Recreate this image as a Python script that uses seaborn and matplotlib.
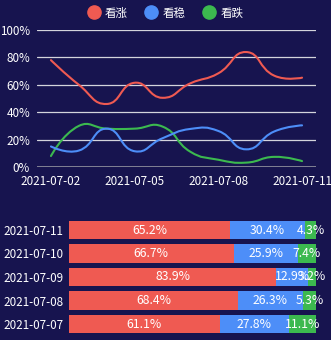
import numpy as np
import pandas as pd
import matplotlib
matplotlib.use("Agg")
import matplotlib.pyplot as plt
from matplotlib.path import Path
from matplotlib.patches import PathPatch
from matplotlib.lines import Line2D
import seaborn as sns

# ---------------- data ----------------
dates = ["2021-07-02", "2021-07-03", "2021-07-04", "2021-07-05", "2021-07-06",
         "2021-07-07", "2021-07-08", "2021-07-09", "2021-07-10", "2021-07-11"]
rise = [78.0, 60.0, 46.0, 61.5, 50.5, 61.1, 68.4, 83.9, 66.7, 65.2]
stable = [15.0, 12.0, 28.0, 11.5, 21.0, 27.8, 26.3, 12.9, 25.9, 30.4]
fall = [8.0, 30.0, 28.0, 28.0, 29.5, 11.1, 5.3, 3.2, 7.4, 4.3]
series_names = ["看涨", "看稳", "看跌"]
x_tick_labels = ["2021-07-02", "2021-07-05", "2021-07-08", "2021-07-11"]
y_tick_labels = ["0%", "20%", "40%", "60%", "80%", "100%"]

bar_dates = ["2021-07-11", "2021-07-10", "2021-07-09", "2021-07-08", "2021-07-07"]
bar_rise = [65.2, 66.7, 83.9, 68.4, 61.1]
bar_stable = [30.4, 25.9, 12.9, 26.3, 27.8]
bar_fall = [4.3, 7.4, 3.2, 5.3, 11.1]

# ---------------- style ----------------
BG = "#17144f"
RED = "#ef5a52"
BLUE = "#4d8ef8"
GREEN = "#3cb94f"
GRID = "#d4d4dc"

sns.set_theme(style="dark")
plt.rcParams["font.family"] = ["Noto Sans CJK SC", "DejaVu Sans"]
plt.rcParams["axes.unicode_minus"] = False

fig = plt.figure(figsize=(3.31, 3.40), dpi=100, facecolor=BG)

# ---------------- top line chart ----------------
ax = fig.add_axes([37 / 331, 1 - 167 / 340, (316 - 37) / 331, (167 - 30) / 340])
ax.set_facecolor(BG)
n = len(dates)
xs = np.arange(n)
ax.set_xlim(-0.5, n - 0.5)
ax.set_ylim(0, 100)


def smooth_path(xv, yv, smooth=0.5, sx=27.9, sy=1.37):
    px = np.asarray(xv, float) * sx
    py = np.asarray(yv, float) * sy
    m = len(px)
    cin = [None] * m
    cout = [None] * m
    for i in range(m):
        if i == 0 or i == m - 1:
            cin[i] = (px[i], py[i])
            cout[i] = (px[i], py[i])
            continue
        vx = px[i + 1] - px[i - 1]
        vy = py[i + 1] - py[i - 1]
        d0 = np.hypot(px[i] - px[i - 1], py[i] - py[i - 1])
        d1 = np.hypot(px[i + 1] - px[i], py[i + 1] - py[i])
        r = d1 / (d0 + d1)
        cin[i] = (px[i] - vx * smooth * (1 - r), py[i] - vy * smooth * (1 - r))
        cout[i] = (px[i] + vx * smooth * r, py[i] + vy * smooth * r)
    verts = [(px[0], py[0])]
    codes = [Path.MOVETO]
    for i in range(1, m):
        verts += [cout[i - 1], cin[i], (px[i], py[i])]
        codes += [Path.CURVE4] * 3
    verts = [(a / sx, b / sy) for a, b in verts]
    return Path(verts, codes)


for yi in [20, 40, 60, 80, 100]:
    ax.axhline(yi, color=GRID, lw=0.9, zorder=1)
ax.axhline(0, color="#8a8a9a", lw=1.3, zorder=1)

for vals, col in [(fall, GREEN), (stable, BLUE), (rise, RED)]:
    ax.add_patch(PathPatch(smooth_path(xs, vals), fill=False, edgecolor=col,
                           lw=1.5, zorder=3, capstyle="round", joinstyle="round"))

ax.set_xticks([0, 3, 6, 9])
ax.set_xticklabels(x_tick_labels)
ax.set_yticks([0, 20, 40, 60, 80, 100])
ax.set_yticklabels(y_tick_labels)
ax.tick_params(axis="both", colors="white", labelsize=8.4, length=0)
ax.tick_params(axis="x", pad=6)
ax.tick_params(axis="y", pad=5)
ax.grid(False)
for s in ax.spines.values():
    s.set_visible(False)

handles = [Line2D([0], [0], marker="o", color="none", markerfacecolor=c,
                  markeredgecolor=c, markersize=9.5, label=l)
           for c, l in zip([RED, BLUE, GREEN], series_names)]
leg = fig.legend(handles=handles, loc="center", bbox_to_anchor=(0.5, 1 - 13 / 340),
                 ncol=3, frameon=False, fontsize=8.3, handletextpad=0.5,
                 columnspacing=1.5, handlelength=1.0, labelcolor="white")

# ---------------- bottom stacked bars ----------------
bx = fig.add_axes([69 / 331, 1 - 335.75 / 340, (316 - 69) / 331, 117.5 / 340])
bx.set_facecolor(BG)
df = pd.DataFrame({"date": bar_dates, "rise": bar_rise,
                   "stable": bar_stable, "fall": bar_fall})
df["c2"] = df["rise"] + df["stable"]
df["c3"] = df["c2"] + df["fall"]

sns.barplot(data=df, y="date", x="c3", order=bar_dates, color=GREEN,
            saturation=1, width=0.79, ax=bx, orient="h", edgecolor="none")
sns.barplot(data=df, y="date", x="c2", order=bar_dates, color=BLUE,
            saturation=1, width=0.79, ax=bx, orient="h", edgecolor="none")
sns.barplot(data=df, y="date", x="rise", order=bar_dates, color=RED,
            saturation=1, width=0.79, ax=bx, orient="h", edgecolor="none")

for i, row in df.iterrows():
    r, s, f = row["rise"], row["stable"], row["fall"]
    for left, w in [(0, r), (r, s), (r + s, f)]:
        bx.text(left + w / 2, i, f"{w:.1f}%", ha="center", va="center",
                color="white", fontsize=8.8)

bx.set_xlim(0, max(df["c3"]))
bx.set_ylim(len(bar_dates) - 0.5, -0.5)
bx.set_xlabel("")
bx.set_ylabel("")
bx.set_xticks([])
bx.tick_params(axis="y", colors="white", labelsize=8.4, length=0, pad=4)
bx.grid(False)
for s in bx.spines.values():
    s.set_visible(False)

fig.savefig("out.png", dpi=100, facecolor=BG)
